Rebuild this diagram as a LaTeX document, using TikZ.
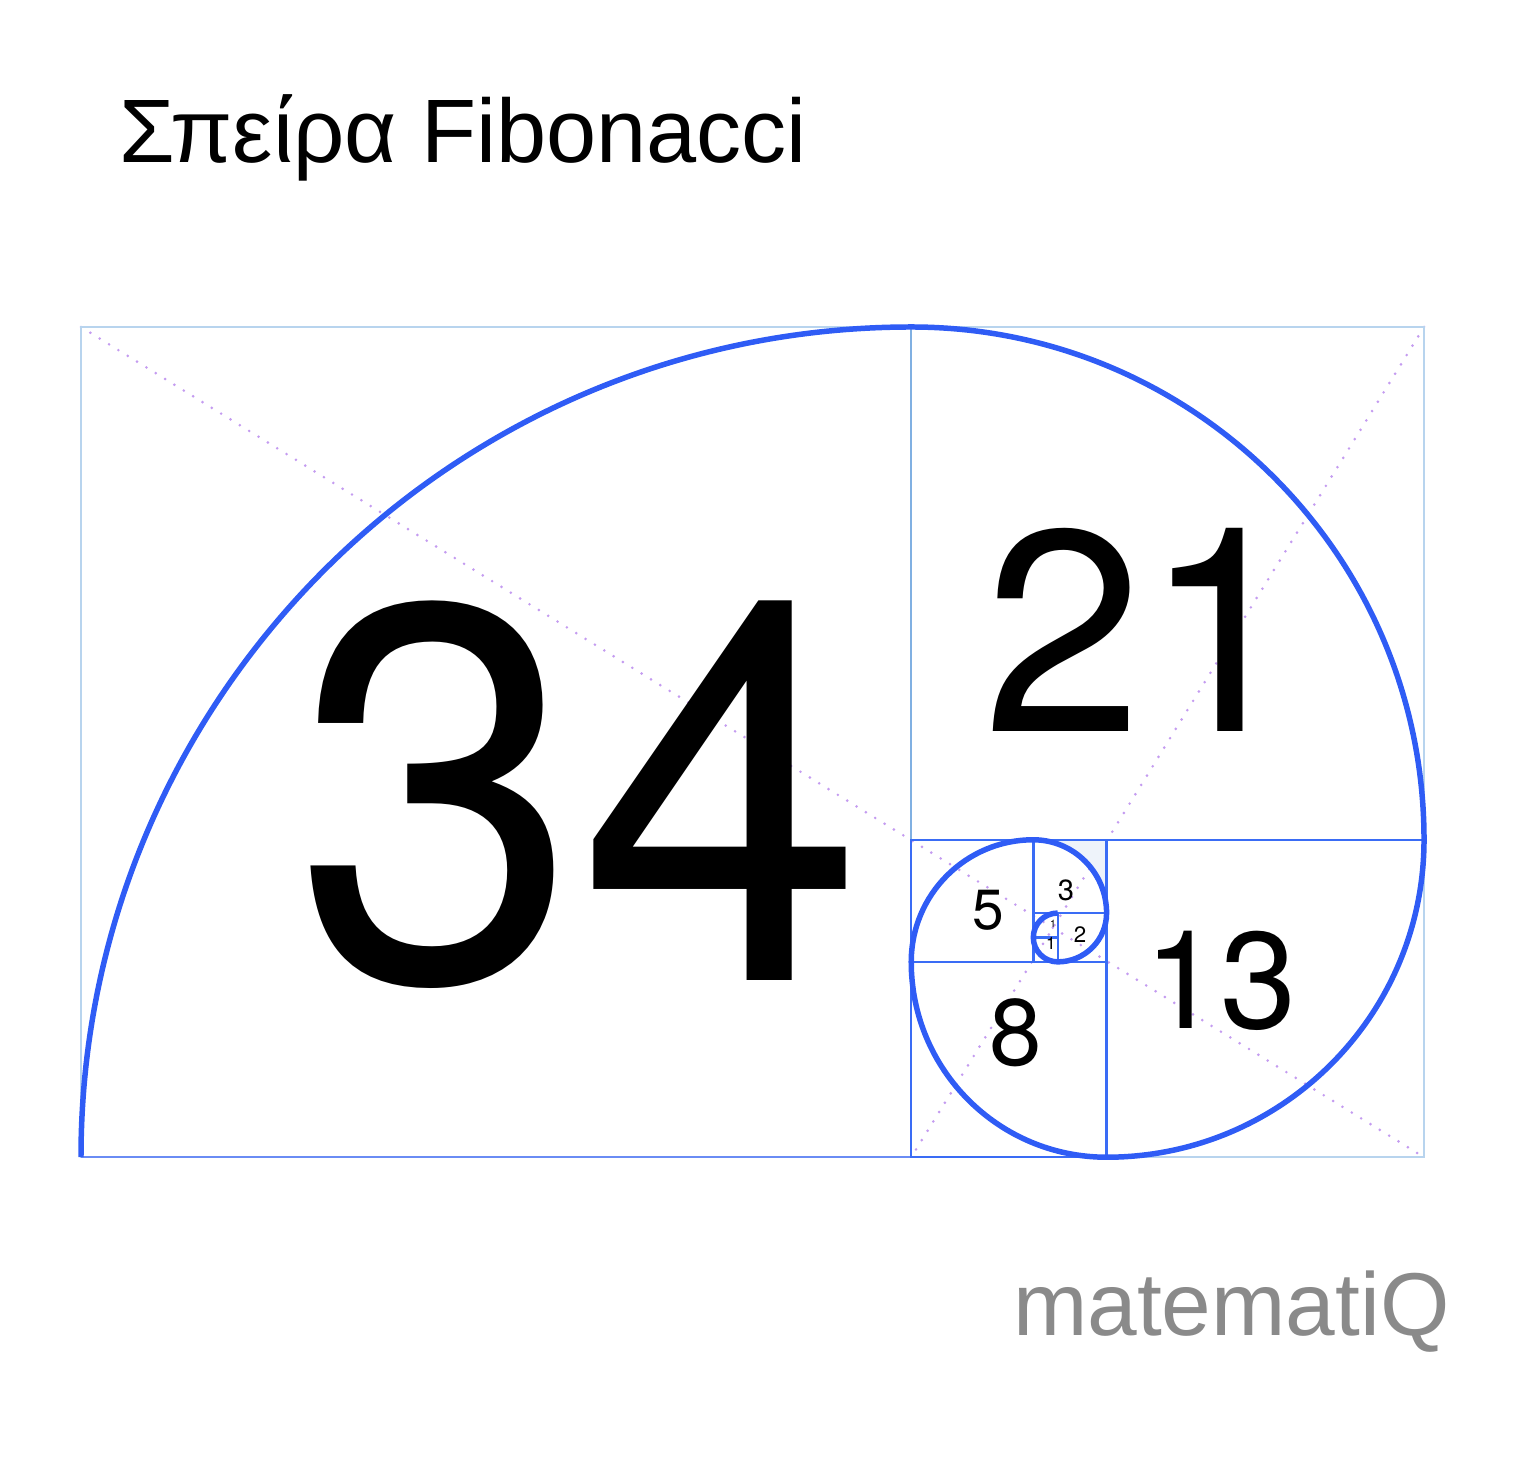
\documentclass[tikz,border=0pt]{standalone}
\usepackage{fontspec}
\setmainfont{Liberation Sans}
\newfontfamily\digitfont{TeX Gyre Heros}
\definecolor{spiralblue}{HTML}{2F5CF5}
\definecolor{lineblue}{HTML}{3A6CF5}
\definecolor{bottomblue}{HTML}{6A8CF4}
\definecolor{paleblue}{HTML}{B8D4EE}
\definecolor{midblue}{HTML}{80B0E2}
\definecolor{dotpurple}{HTML}{C49CF0}
\definecolor{cornerfill}{HTML}{EEF3FA}
\definecolor{logogray}{HTML}{8A8A8A}
\tikzset{
  square/.style={draw=lineblue, line width=1.4pt},
  spiral/.style={draw=spiralblue, line width=3.2pt},
  diag/.style={draw=dotpurple, line width=1.7pt, line cap=round, dash pattern=on 0pt off 6.4pt},
  num/.style={anchor=base, inner sep=0pt},
}
\begin{document}
\begin{tikzpicture}[x=0.5cm, y=0.5cm]
        \useasboundingbox (-3.317,-12.449) rectangle (59.586,47.391);
        % corners
        \coordinate (tl) at (0,34);
        \coordinate (tr) at (55,34);
        \coordinate (br) at (55,0);
        \coordinate (b8) at (34,0);
        % diagonals
        \draw[diag] (tl) -- (br);
        \draw[diag] (tr) -- (b8);
        \fill[cornerfill] (42,13) -- (39,13) arc[start angle=90, end angle=0, radius=3] -- cycle;
        % frame
        \draw[paleblue, line width=0.9pt] (0,0) rectangle (55,34);
        \draw[midblue, line width=1.1pt] (34,13) -- (34,34);
        \draw[bottomblue, line width=1pt] (0,0) -- (42,0);
        % squares
        \draw[square] (34,13) -- (55,13);
        \draw[square] (42,0) -- (42,13);
        \draw[square] (34,0) rectangle (42,8);
        \draw[square] (34,8) rectangle (39,13);
        \draw[square] (39,10) rectangle (42,13);
        \draw[square] (40,8) rectangle (42,10);
        \draw[square] (39,8) rectangle (40,9);
        \draw[square] (39,9) rectangle (40,10);
        % spiral
        \draw[spiral] (0,0) arc[start angle=180, end angle=90, radius=34]
            arc[start angle=90, end angle=0, radius=21]
            arc[start angle=0, end angle=-90, radius=13]
            arc[start angle=-90, end angle=-180, radius=8]
            arc[start angle=180, end angle=90, radius=5]
            arc[start angle=90, end angle=0, radius=3]
            arc[start angle=0, end angle=-90, radius=2]
            arc[start angle=-90, end angle=-180, radius=1]
            arc[start angle=180, end angle=90, radius=1];
        % nodes
        \node[num, font=\digitfont\fontsize{312}{312}\selectfont] (n34) at (20.43,7.25) {\scalebox{0.957}[1]{34}};
        \node[num, font=\digitfont\fontsize{167}{167}\selectfont] (n21) at (43.50,17.45) {21};
        \node[num, font=\digitfont\fontsize{80}{80}\selectfont] (n13) at (46.68,5.28) {13};
        \node[num, font=\digitfont\fontsize{55}{55}\selectfont] (n8) at (38.29,3.77) {8};
        \node[num, font=\digitfont\fontsize{33}{33}\selectfont] (n5) at (37.14,9.34) {5};
        \node[num, font=\digitfont\fontsize{17}{17}\selectfont] (n3) at (40.34,10.52) {3};
        \node[num, font=\digitfont\fontsize{13}{13}\selectfont] (n2) at (40.91,8.80) {2};
        \node[num, font=\digitfont\fontsize{10}{10}\selectfont] (n1a) at (39.72,8.50) {1};
        \node[num, font=\digitfont\fontsize{6}{6}\selectfont] (n1b) at (39.80,9.42) {1};
        \node[anchor=base west, inner sep=0pt, font=\fontsize{52.5}{52.5}\selectfont] (title) at (1.55,40.75) {Σπείρα Fibonacci};
        \node[anchor=base east, inner sep=0pt, text=logogray, font=\fontsize{52}{52}\selectfont] (logo) at (56.06,-7.29) {matematiQ};
\end{tikzpicture}
\end{document}
